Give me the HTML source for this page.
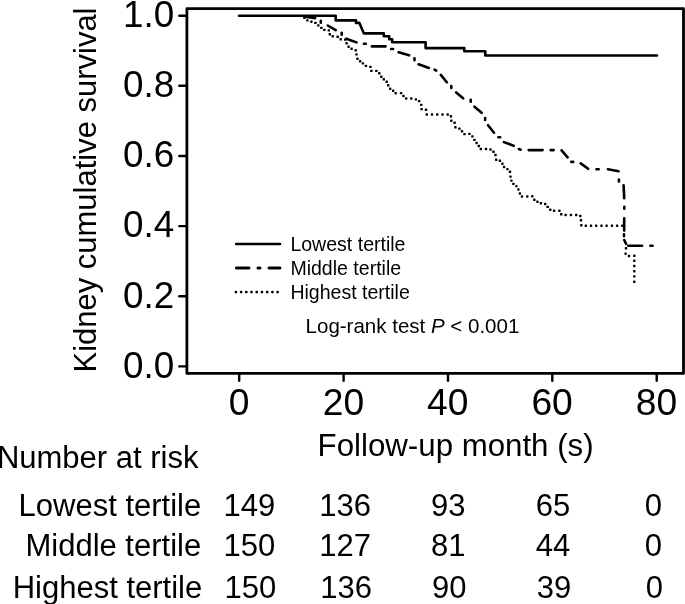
<!DOCTYPE html>
<html lang="en"><head><meta charset="utf-8"><title>Kidney cumulative survival</title>
<style>html,body{margin:0;padding:0;background:#fff;}svg{display:block;}text{font-family:"Liberation Sans", Arial, Helvetica, sans-serif;fill:#000;}</style></head><body>
<svg width="685" height="604" viewBox="0 0 685 604">
<rect width="685" height="604" fill="#fff"/>
<rect x="186.9" y="8.7" width="496.6" height="364.7" fill="none" stroke="#000" stroke-width="2.8" stroke-linejoin="round"/>
<line x1="179.3" y1="366.4" x2="186" y2="366.4" stroke="#000" stroke-width="2.4" stroke-linecap="round"/>
<text x="174.2" y="377.6" font-size="36.8" text-anchor="end">0.0</text>
<line x1="179.3" y1="296.3" x2="186" y2="296.3" stroke="#000" stroke-width="2.4" stroke-linecap="round"/>
<text x="174.2" y="307.5" font-size="36.8" text-anchor="end">0.2</text>
<line x1="179.3" y1="226.1" x2="186" y2="226.1" stroke="#000" stroke-width="2.4" stroke-linecap="round"/>
<text x="174.2" y="237.3" font-size="36.8" text-anchor="end">0.4</text>
<line x1="179.3" y1="156.0" x2="186" y2="156.0" stroke="#000" stroke-width="2.4" stroke-linecap="round"/>
<text x="174.2" y="167.2" font-size="36.8" text-anchor="end">0.6</text>
<line x1="179.3" y1="85.8" x2="186" y2="85.8" stroke="#000" stroke-width="2.4" stroke-linecap="round"/>
<text x="174.2" y="97.0" font-size="36.8" text-anchor="end">0.8</text>
<line x1="179.3" y1="15.7" x2="186" y2="15.7" stroke="#000" stroke-width="2.4" stroke-linecap="round"/>
<text x="174.2" y="26.9" font-size="36.8" text-anchor="end">1.0</text>
<line x1="239.2" y1="374.4" x2="239.2" y2="380.8" stroke="#000" stroke-width="2.4" stroke-linecap="round"/>
<text x="239.0" y="414.8" font-size="37.2" text-anchor="middle">0</text>
<line x1="343.6" y1="374.4" x2="343.6" y2="380.8" stroke="#000" stroke-width="2.4" stroke-linecap="round"/>
<text x="343.4" y="414.8" font-size="37.2" text-anchor="middle">20</text>
<line x1="448.0" y1="374.4" x2="448.0" y2="380.8" stroke="#000" stroke-width="2.4" stroke-linecap="round"/>
<text x="447.8" y="414.8" font-size="37.2" text-anchor="middle">40</text>
<line x1="552.3" y1="374.4" x2="552.3" y2="380.8" stroke="#000" stroke-width="2.4" stroke-linecap="round"/>
<text x="552.1" y="414.8" font-size="37.2" text-anchor="middle">60</text>
<line x1="656.7" y1="374.4" x2="656.7" y2="380.8" stroke="#000" stroke-width="2.4" stroke-linecap="round"/>
<text x="656.5" y="414.8" font-size="37.2" text-anchor="middle">80</text>
<text transform="translate(96.0,372.5) rotate(-90)" font-size="31" textLength="365" lengthAdjust="spacingAndGlyphs">Kidney cumulative survival</text>
<text x="317.6" y="456.2" font-size="31" textLength="276" lengthAdjust="spacingAndGlyphs">Follow-up month (s)</text>
<g fill="#000"><rect x="303.2" y="16.7" width="2.4" height="2.4" rx="0.6"/><rect x="306.2" y="19.2" width="2.4" height="2.4" rx="0.6"/><rect x="310.2" y="20.5" width="2.4" height="2.4" rx="0.6"/><rect x="314.2" y="21.7" width="2.4" height="2.4" rx="0.6"/><rect x="317.1" y="24.2" width="2.4" height="2.4" rx="0.6"/><rect x="320.1" y="26.7" width="2.4" height="2.4" rx="0.6"/><rect x="323.1" y="28.7" width="2.4" height="2.4" rx="0.6"/><rect x="327.6" y="29.2" width="2.4" height="2.4" rx="0.6"/><rect x="328.6" y="33.1" width="2.4" height="2.4" rx="0.6"/><rect x="331.5" y="35.1" width="2.4" height="2.4" rx="0.6"/><rect x="336.5" y="35.6" width="2.4" height="2.4" rx="0.6"/><rect x="339.5" y="38.1" width="2.4" height="2.4" rx="0.6"/><rect x="344.0" y="38.4" width="2.4" height="2.4" rx="0.6"/><rect x="345.4" y="42.1" width="2.4" height="2.4" rx="0.6"/><rect x="347.4" y="45.5" width="2.4" height="2.4" rx="0.6"/><rect x="350.4" y="47.5" width="2.4" height="2.4" rx="0.6"/><rect x="354.5" y="49.1" width="2.4" height="2.4" rx="0.6"/><rect x="355.3" y="53.2" width="2.4" height="2.4" rx="0.6"/><rect x="356.3" y="57.6" width="2.4" height="2.4" rx="0.6"/><rect x="359.0" y="60.1" width="2.4" height="2.4" rx="0.6"/><rect x="361.7" y="62.2" width="2.4" height="2.4" rx="0.6"/><rect x="364.7" y="64.7" width="2.4" height="2.4" rx="0.6"/><rect x="369.2" y="65.7" width="2.4" height="2.4" rx="0.6"/><rect x="370.2" y="69.7" width="2.4" height="2.4" rx="0.6"/><rect x="375.1" y="69.7" width="2.4" height="2.4" rx="0.6"/><rect x="378.1" y="72.1" width="2.4" height="2.4" rx="0.6"/><rect x="380.1" y="75.6" width="2.4" height="2.4" rx="0.6"/><rect x="382.6" y="78.1" width="2.4" height="2.4" rx="0.6"/><rect x="385.5" y="80.6" width="2.4" height="2.4" rx="0.6"/><rect x="387.0" y="84.1" width="2.4" height="2.4" rx="0.6"/><rect x="389.0" y="87.5" width="2.4" height="2.4" rx="0.6"/><rect x="392.0" y="89.5" width="2.4" height="2.4" rx="0.6"/><rect x="394.5" y="92.0" width="2.4" height="2.4" rx="0.6"/><rect x="399.9" y="91.9" width="2.4" height="2.4" rx="0.6"/><rect x="402.3" y="94.8" width="2.4" height="2.4" rx="0.6"/><rect x="405.0" y="97.3" width="2.4" height="2.4" rx="0.6"/><rect x="410.1" y="97.3" width="2.4" height="2.4" rx="0.6"/><rect x="414.7" y="98.2" width="2.4" height="2.4" rx="0.6"/><rect x="417.9" y="99.9" width="2.4" height="2.4" rx="0.6"/><rect x="420.0" y="103.7" width="2.4" height="2.4" rx="0.6"/><rect x="420.4" y="107.9" width="2.4" height="2.4" rx="0.6"/><rect x="424.8" y="108.6" width="2.4" height="2.4" rx="0.6"/><rect x="425.6" y="113.3" width="2.4" height="2.4" rx="0.6"/><rect x="430.8" y="113.3" width="2.4" height="2.4" rx="0.6"/><rect x="436.0" y="113.3" width="2.4" height="2.4" rx="0.6"/><rect x="441.3" y="113.3" width="2.4" height="2.4" rx="0.6"/><rect x="446.5" y="113.3" width="2.4" height="2.4" rx="0.6"/><rect x="449.7" y="115.1" width="2.4" height="2.4" rx="0.6"/><rect x="450.1" y="119.5" width="2.4" height="2.4" rx="0.6"/><rect x="453.4" y="121.5" width="2.4" height="2.4" rx="0.6"/><rect x="454.2" y="126.1" width="2.4" height="2.4" rx="0.6"/><rect x="458.2" y="127.4" width="2.4" height="2.4" rx="0.6"/><rect x="460.8" y="130.1" width="2.4" height="2.4" rx="0.6"/><rect x="463.3" y="132.9" width="2.4" height="2.4" rx="0.6"/><rect x="468.2" y="132.7" width="2.4" height="2.4" rx="0.6"/><rect x="471.2" y="135.2" width="2.4" height="2.4" rx="0.6"/><rect x="473.2" y="138.7" width="2.4" height="2.4" rx="0.6"/><rect x="475.4" y="141.8" width="2.4" height="2.4" rx="0.6"/><rect x="477.6" y="144.8" width="2.4" height="2.4" rx="0.6"/><rect x="479.6" y="147.8" width="2.4" height="2.4" rx="0.6"/><rect x="484.8" y="147.8" width="2.4" height="2.4" rx="0.6"/><rect x="489.3" y="148.3" width="2.4" height="2.4" rx="0.6"/><rect x="492.3" y="150.6" width="2.4" height="2.4" rx="0.6"/><rect x="494.3" y="153.8" width="2.4" height="2.4" rx="0.6"/><rect x="495.0" y="158.5" width="2.4" height="2.4" rx="0.6"/><rect x="498.7" y="159.5" width="2.4" height="2.4" rx="0.6"/><rect x="501.2" y="162.5" width="2.4" height="2.4" rx="0.6"/><rect x="502.9" y="165.8" width="2.4" height="2.4" rx="0.6"/><rect x="506.2" y="167.9" width="2.4" height="2.4" rx="0.6"/><rect x="508.8" y="170.6" width="2.4" height="2.4" rx="0.6"/><rect x="509.3" y="175.4" width="2.4" height="2.4" rx="0.6"/><rect x="510.2" y="179.4" width="2.4" height="2.4" rx="0.6"/><rect x="512.2" y="182.7" width="2.4" height="2.4" rx="0.6"/><rect x="515.2" y="184.9" width="2.4" height="2.4" rx="0.6"/><rect x="517.2" y="188.3" width="2.4" height="2.4" rx="0.6"/><rect x="518.7" y="192.3" width="2.4" height="2.4" rx="0.6"/><rect x="520.8" y="195.3" width="2.4" height="2.4" rx="0.6"/><rect x="526.1" y="195.3" width="2.4" height="2.4" rx="0.6"/><rect x="531.1" y="195.1" width="2.4" height="2.4" rx="0.6"/><rect x="533.1" y="198.6" width="2.4" height="2.4" rx="0.6"/><rect x="536.2" y="200.5" width="2.4" height="2.4" rx="0.6"/><rect x="539.7" y="202.0" width="2.4" height="2.4" rx="0.6"/><rect x="544.0" y="202.8" width="2.4" height="2.4" rx="0.6"/><rect x="546.5" y="205.7" width="2.4" height="2.4" rx="0.6"/><rect x="549.1" y="208.5" width="2.4" height="2.4" rx="0.6"/><rect x="552.9" y="209.5" width="2.4" height="2.4" rx="0.6"/><rect x="558.2" y="209.5" width="2.4" height="2.4" rx="0.6"/><rect x="560.1" y="213.1" width="2.4" height="2.4" rx="0.6"/><rect x="564.4" y="213.8" width="2.4" height="2.4" rx="0.6"/><rect x="569.7" y="213.8" width="2.4" height="2.4" rx="0.6"/><rect x="575.0" y="213.8" width="2.4" height="2.4" rx="0.6"/><rect x="579.1" y="214.8" width="2.4" height="2.4" rx="0.6"/><rect x="579.8" y="219.1" width="2.4" height="2.4" rx="0.6"/><rect x="580.1" y="224.1" width="2.4" height="2.4" rx="0.6"/><rect x="584.6" y="224.5" width="2.4" height="2.4" rx="0.6"/><rect x="589.8" y="224.5" width="2.4" height="2.4" rx="0.6"/><rect x="595.0" y="224.5" width="2.4" height="2.4" rx="0.6"/><rect x="600.3" y="224.5" width="2.4" height="2.4" rx="0.6"/><rect x="605.4" y="224.5" width="2.4" height="2.4" rx="0.6"/><rect x="610.7" y="224.5" width="2.4" height="2.4" rx="0.6"/><rect x="615.9" y="224.5" width="2.4" height="2.4" rx="0.6"/><rect x="621.1" y="224.5" width="2.4" height="2.4" rx="0.6"/><rect x="624.8" y="247.1" width="2.4" height="2.4" rx="0.6"/><rect x="624.4" y="252.4" width="2.4" height="2.4" rx="0.6"/><rect x="627.8" y="254.8" width="2.4" height="2.4" rx="0.6"/><rect x="633.1" y="254.6" width="2.4" height="2.4" rx="0.6"/><rect x="633.1" y="259.5" width="2.4" height="2.4" rx="0.6"/><rect x="633.1" y="264.8" width="2.4" height="2.4" rx="0.6"/><rect x="633.1" y="270.0" width="2.4" height="2.4" rx="0.6"/><rect x="633.1" y="275.2" width="2.4" height="2.4" rx="0.6"/><rect x="633.1" y="280.6" width="2.4" height="2.4" rx="0.6"/></g>
<path d="M305.4,16.7 L315.1,18.1 M320.8,20.9 L320.8,22.8 M327.8,25.5 L335.7,30.2 M341.7,32.8 L341.7,34.8 M346.3,38.7 L356.5,42.4 M363.9,43.8 L365.8,43.8 M371.9,46.4 L385.5,46.4 M391.2,49.0 L393.1,49.0 M398.6,52.3 L409.1,55.3 M414.5,58.2 L414.5,60.2 M418.6,64.3 L428.9,67.9 M434.6,69.6 L436.2,70.6 M440.8,74.9 L446.8,82.3 M451.3,86.0 L451.3,87.9 M456.2,92.4 L463.1,98.3 M470.7,99.8 L470.7,101.8 M474.5,106.7 L481.6,112.8 M485.1,118.1 L485.1,120.0 M488.0,125.2 L494.0,132.7 M498.4,137.2 L500.2,137.2 M503.9,142.1 L513.7,145.8 M518.9,149.1 L520.7,149.7 M528.7,150.1 L542.6,150.1 M550.7,150.1 L553.7,150.1 M561.6,150.3 L567.6,157.3 M571.3,161.9 L573.2,161.9 M580.7,163.4 L588.1,168.8 M596.5,169.3 L598.7,169.3 M607.9,169.2 L618.6,171.2 M618.9,179.6 L618.9,181.4 M623.6,185.4 L624.2,198.1 M624.3,206.9 L624.3,208.7 M624.2,218.2 L624.2,230.6 M624.0,234.3 L624.0,236.1 M624.3,240.0 L626.0,243.8 M628.1,245.8 L642.1,245.8 M650.4,245.8 L652.6,245.8" fill="none" stroke="#000" stroke-width="2.6" stroke-linecap="round"/>
<path d="M239,15.8 H335.7 V20.4 H356 V22.9 H359.4 L363.9,33.4 H383.8 V36.3 H389.2 V39.3 H392.2 V42.2 H425.6 V48.1 H464.3 V51.3 H485.3 V55.5 H657" fill="none" stroke="#000" stroke-width="2.6" stroke-linejoin="round" stroke-linecap="round"/>
<path d="M236.2,244.0 H280" fill="none" stroke="#000" stroke-width="2.7" stroke-linecap="round"/>
<path d="M236.4,268 H249 M258,268 H260 M269,268 H279.9" fill="none" stroke="#000" stroke-width="3" stroke-linecap="round"/>
<g fill="#000"><circle cx="235.9" cy="292.1" r="1.4"/><circle cx="241.1" cy="292.1" r="1.4"/><circle cx="246.3" cy="292.1" r="1.4"/><circle cx="251.5" cy="292.1" r="1.4"/><circle cx="256.7" cy="292.1" r="1.4"/><circle cx="261.9" cy="292.1" r="1.4"/><circle cx="267.2" cy="292.1" r="1.4"/><circle cx="272.4" cy="292.1" r="1.4"/><circle cx="277.6" cy="292.1" r="1.4"/></g>
<text x="290.4" y="250.6" font-size="19.55">Lowest tertile</text>
<text x="290.4" y="274.8" font-size="19.55">Middle tertile</text>
<text x="290.4" y="298.8" font-size="19.55">Highest tertile</text>
<text x="305.6" y="333.2" font-size="20.5">Log-rank test <tspan font-style="italic">P</tspan> &lt; 0.001</text>
<text x="-3.1" y="467.6" font-size="31">Number at risk</text>
<text x="201.2" y="516.1" font-size="31" text-anchor="end">Lowest tertile</text>
<text x="249.3" y="516.1" font-size="31" text-anchor="middle">149</text>
<text x="345.2" y="516.1" font-size="31" text-anchor="middle">136</text>
<text x="448.3" y="516.1" font-size="31" text-anchor="middle">93</text>
<text x="553" y="516.1" font-size="31" text-anchor="middle">65</text>
<text x="653.3" y="516.1" font-size="31" text-anchor="middle">0</text>
<text x="201.2" y="556.4" font-size="31" text-anchor="end">Middle tertile</text>
<text x="249.3" y="556.4" font-size="31" text-anchor="middle">150</text>
<text x="345.2" y="556.4" font-size="31" text-anchor="middle">127</text>
<text x="448.3" y="556.4" font-size="31" text-anchor="middle">81</text>
<text x="553" y="556.4" font-size="31" text-anchor="middle">44</text>
<text x="653.3" y="556.4" font-size="31" text-anchor="middle">0</text>
<text x="202.2" y="598.0" font-size="31" text-anchor="end">Highest tertile</text>
<text x="250.3" y="598.0" font-size="31" text-anchor="middle">150</text>
<text x="346.2" y="598.0" font-size="31" text-anchor="middle">136</text>
<text x="449.3" y="598.0" font-size="31" text-anchor="middle">90</text>
<text x="554" y="598.0" font-size="31" text-anchor="middle">39</text>
<text x="654.3" y="598.0" font-size="31" text-anchor="middle">0</text>
</svg></body></html>
